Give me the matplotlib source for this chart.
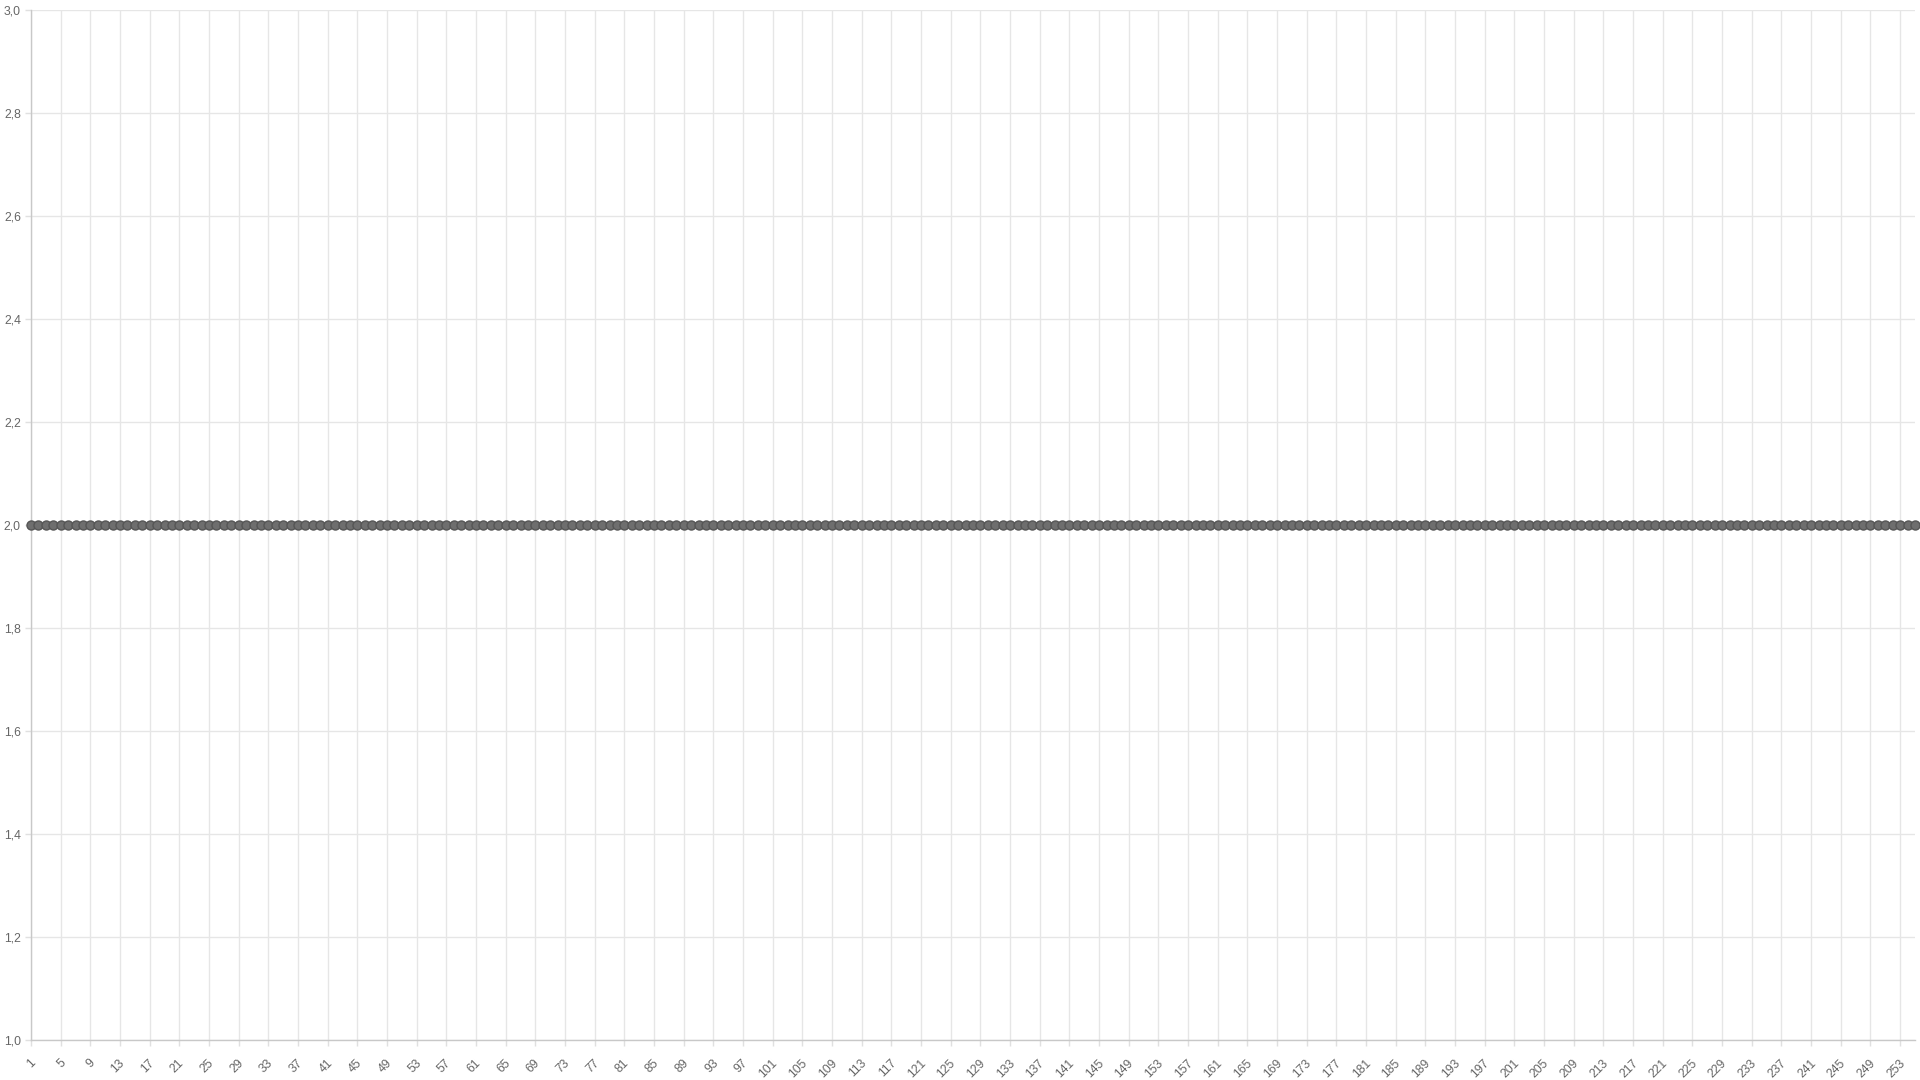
import matplotlib
matplotlib.use('Agg')
import matplotlib.pyplot as plt
import matplotlib.ticker as ticker
import matplotlib.transforms as mtransforms

plt.rcParams['font.family'] = ['Liberation Sans', 'DejaVu Sans']

# categories on the x axis (1 .. 255), every 4th one is labelled
categories = list(range(1, 256))

# series values: every point sits on 2,0
values = [
    2.0, 2.0, 2.0, 2.0, 2.0, 2.0, 2.0, 2.0, 2.0, 2.0, 2.0, 2.0, 2.0, 2.0, 2.0,
    2.0, 2.0, 2.0, 2.0, 2.0, 2.0, 2.0, 2.0, 2.0, 2.0, 2.0, 2.0, 2.0, 2.0, 2.0,
    2.0, 2.0, 2.0, 2.0, 2.0, 2.0, 2.0, 2.0, 2.0, 2.0, 2.0, 2.0, 2.0, 2.0, 2.0,
    2.0, 2.0, 2.0, 2.0, 2.0, 2.0, 2.0, 2.0, 2.0, 2.0, 2.0, 2.0, 2.0, 2.0, 2.0,
    2.0, 2.0, 2.0, 2.0, 2.0, 2.0, 2.0, 2.0, 2.0, 2.0, 2.0, 2.0, 2.0, 2.0, 2.0,
    2.0, 2.0, 2.0, 2.0, 2.0, 2.0, 2.0, 2.0, 2.0, 2.0, 2.0, 2.0, 2.0, 2.0, 2.0,
    2.0, 2.0, 2.0, 2.0, 2.0, 2.0, 2.0, 2.0, 2.0, 2.0, 2.0, 2.0, 2.0, 2.0, 2.0,
    2.0, 2.0, 2.0, 2.0, 2.0, 2.0, 2.0, 2.0, 2.0, 2.0, 2.0, 2.0, 2.0, 2.0, 2.0,
    2.0, 2.0, 2.0, 2.0, 2.0, 2.0, 2.0, 2.0, 2.0, 2.0, 2.0, 2.0, 2.0, 2.0, 2.0,
    2.0, 2.0, 2.0, 2.0, 2.0, 2.0, 2.0, 2.0, 2.0, 2.0, 2.0, 2.0, 2.0, 2.0, 2.0,
    2.0, 2.0, 2.0, 2.0, 2.0, 2.0, 2.0, 2.0, 2.0, 2.0, 2.0, 2.0, 2.0, 2.0, 2.0,
    2.0, 2.0, 2.0, 2.0, 2.0, 2.0, 2.0, 2.0, 2.0, 2.0, 2.0, 2.0, 2.0, 2.0, 2.0,
    2.0, 2.0, 2.0, 2.0, 2.0, 2.0, 2.0, 2.0, 2.0, 2.0, 2.0, 2.0, 2.0, 2.0, 2.0,
    2.0, 2.0, 2.0, 2.0, 2.0, 2.0, 2.0, 2.0, 2.0, 2.0, 2.0, 2.0, 2.0, 2.0, 2.0,
    2.0, 2.0, 2.0, 2.0, 2.0, 2.0, 2.0, 2.0, 2.0, 2.0, 2.0, 2.0, 2.0, 2.0, 2.0,
    2.0, 2.0, 2.0, 2.0, 2.0, 2.0, 2.0, 2.0, 2.0, 2.0, 2.0, 2.0, 2.0, 2.0, 2.0,
    2.0, 2.0, 2.0, 2.0, 2.0, 2.0, 2.0, 2.0, 2.0, 2.0, 2.0, 2.0, 2.0, 2.0, 2.0,
]

# y axis ticks
y_ticks = [1.0, 1.2, 1.4, 1.6, 1.8, 2.0, 2.2, 2.4, 2.6, 2.8, 3.0]

fig = plt.figure(figsize=(19.2, 10.8), dpi=100)
ax = fig.add_axes([31 / 1920, 40 / 1080, (1915 - 31) / 1920, (1040 - 10) / 1080])

# the line with its round markers
ax.plot(categories, values, color='#555555', linewidth=1.5,
        marker='o', markersize=6.5, markerfacecolor='#6e6e6e',
        markeredgecolor='#555555', markeredgewidth=1, zorder=3, clip_on=False)

ax.set_xlim(categories[0], categories[-1])
ax.set_ylim(y_ticks[0], y_ticks[-1])

# x ticks: every 4th category
ax.set_xticks(categories[::4])
ax.set_xticklabels([str(c) for c in categories[::4]], rotation=45,
                   ha='right', va='center', rotation_mode='anchor')
ax.set_yticks(y_ticks)
ax.yaxis.set_major_formatter(ticker.FuncFormatter(lambda v, p: f'{v:.1f}'.replace('.', ',')))

# light grey grid, like the web chart
ax.grid(True, color='#e6e6e6', linewidth=1)
ax.set_axisbelow(True)
for side in ['top', 'right']:
    ax.spines[side].set_visible(False)
for side in ['left', 'bottom']:
    ax.spines[side].set_color('#c8c8c8')
    ax.spines[side].set_linewidth(1)

ax.tick_params(axis='both', colors='#e0e0e0', labelcolor='#666666',
               labelsize=8.8, length=4.3, width=1, pad=3)
ax.tick_params(axis='x', pad=11)

# nudge the rotated x labels a little to the right, as in the web chart
shift = mtransforms.ScaledTranslation(3 / 100, 0, fig.dpi_scale_trans)
for lab in ax.get_xticklabels():
    lab.set_transform(lab.get_transform() + shift)

fig.savefig('out.png', dpi=100, facecolor='white')
